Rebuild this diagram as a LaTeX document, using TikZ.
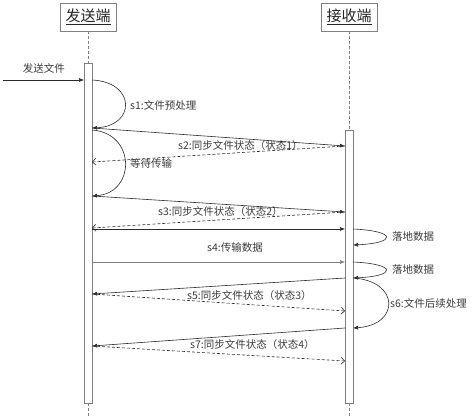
\documentclass[tikz,border=0pt]{standalone}
\usepackage{fontspec}
\setmainfont{Noto Sans CJK SC}
\usetikzlibrary{arrows.meta,positioning}
\definecolor{sdline}{HTML}{2B2B2B}
\definecolor{sdtext}{HTML}{3A3A3A}
\definecolor{sdgray}{HTML}{808080}

\begin{document}
\begin{tikzpicture}[x=1pt, y=-1pt,
  actor/.style={draw=sdgray, thick, minimum width=56pt, minimum height=28pt,
                inner sep=0pt, font=\fontsize{15}{16}\selectfont, text=black!85},
  bar/.style={draw=sdgray, fill=white, minimum width=8pt, inner sep=0pt},
  life/.style={draw=sdgray, dashed, dash pattern=on 3pt off 2pt},
  call/.style={-{Latex[length=5pt,width=4pt]}, draw=sdline, semithick},
  reply/.style={-{Straight Barb[length=3.5pt,width=7pt]}, draw=sdline, semithick, dashed,
                dash pattern=on 3pt off 2pt},
  note/.style={font=\fontsize{10.5}{12}\selectfont, text=sdtext, anchor=west, inner sep=0pt},
]
  \useasboundingbox (0,0) rectangle (474,417);

  % Lifelines ---------------------------------------------------------------
  \node[actor] (shead) at (88,17) {\underline{发送端}};
  \node[actor] (rhead) at (349,17) {\underline{接收端}};
  \node[bar, minimum height=340pt] (sbar) at (88,233) {};
  \node[bar, minimum height=273pt] (rbar) at (349,266.5) {};
  \coordinate (send) at (88,416);
  \coordinate (rend) at (349,416);
  \draw[life] (shead) -- (sbar);
  \draw[life] (rhead) -- (rbar);
  \draw[life] (sbar) -- (send);
  \draw[life] (rbar) -- (rend);

  % Points on the bars ------------------------------------------------------
  \coordinate (in) at (3,80);
  \coordinate (sa) at (84,80);
  \coordinate (s80) at (92,80);
  \coordinate (s128) at (92,128);
  \coordinate (s130) at (92,130);
  \coordinate (s162) at (92,162);
  \coordinate (s196) at (92,196);
  \coordinate (s228) at (92,228);
  \coordinate (s229) at (92,229);
  \coordinate (s262) at (92,262);
  \coordinate (s294) at (92,294);
  \coordinate (s346) at (92,346);
  \coordinate (r146) at (345,146);
  \coordinate (r212) at (345,212);
  \coordinate (r229) at (345,229);
  \coordinate (r262) at (345,262);
  \coordinate (r278) at (345,278);
  \coordinate (r311) at (345,311);
  \coordinate (r328) at (345,328);
  \coordinate (r361) at (345,361);
  \coordinate (q229) at (353,229);
  \coordinate (q245) at (353,245);
  \coordinate (q262) at (353,262);
  \coordinate (q278) at (353,278);
  \coordinate (q328) at (353,328);

  % Sender side -------------------------------------------------------------
  \draw[call] (in) -- (sa);
  \node[note, anchor=center] (lin) at (44,68) {发送文件};
  \draw[call] (s80) .. controls (136,82) and (136,126) .. (s128);
  \node[note] (l1) at (130,105) {s1:文件预处理};
  \draw[call] (s128) -- (r146);
  \draw[reply] (r146) -- (s162);
  \node[note] (l2) at (178,146) {s2:同步文件状态（状态1）};
  \draw[call] (s130) .. controls (136,133) and (136,193) .. (s196);
  \node[note] (lwait) at (130,163) {等待传输};
  \draw[call] (s196) -- (r212);
  \draw[reply] (r212) -- (s228);
  \node[note] (l3) at (158,212) {s3:同步文件状态（状态2）};

  % Data transfer -----------------------------------------------------------
  \draw[call] (s229) -- (r229);
  \draw[call] (q229) .. controls (397,231) and (397,243) .. (q245);
  \node[note] (ld1) at (392,237) {落地数据};
  \node[note] (l4) at (207,248) {s4:传输数据};
  \draw[call, draw=sdgray] (s262) -- (r262);
  \draw[call] (q262) .. controls (397,264) and (397,276) .. (q278);
  \node[note] (ld2) at (392,270) {落地数据};

  % Receiver side -----------------------------------------------------------
  \draw[call] (r278) -- (s294);
  \draw[reply] (s294) -- (r311);
  \node[note] (l5) at (187,296) {s5:同步文件状态（状态3）};
  \draw[call] (q278) .. controls (400,281) and (400,325) .. (q328);
  \node[note] (l6) at (390,303) {s6:文件后续处理};
  \draw[call] (r328) -- (s346);
  \draw[reply] (s346) -- (r361);
  \node[note] (l7) at (190,345) {s7:同步文件状态（状态4）};
\end{tikzpicture}
\end{document}
